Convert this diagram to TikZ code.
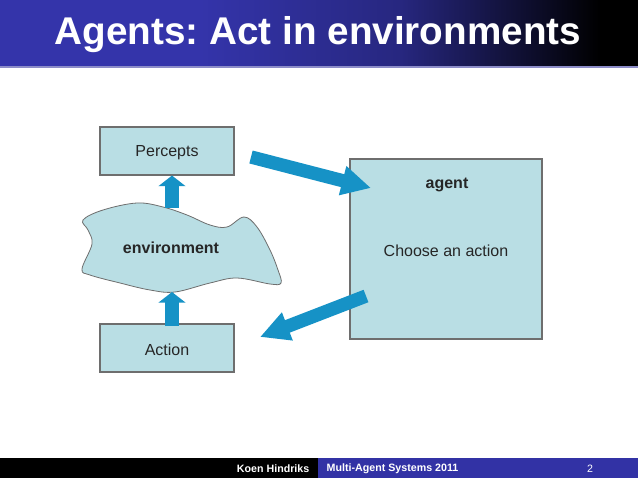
\documentclass[tikz,border=0pt]{standalone}
\usepackage{fontspec}
\setmainfont{Liberation Sans}
\frenchspacing
\usetikzlibrary{arrows.meta,calc}
\definecolor{boxfill}{RGB}{185,222,228}
\definecolor{boxline}{RGB}{110,110,110}
\definecolor{arrowblue}{RGB}{22,146,198}
\definecolor{titleblue}{RGB}{52,52,170}
\definecolor{footblue}{RGB}{50,50,165}
\definecolor{lineblue}{RGB}{140,140,200}
\tikzset{
  box/.style={draw=boxline, fill=boxfill, line width=0.8pt, inner sep=0pt},
  lbl/.style={font=\fontsize{12}{14}\selectfont, text=black!85},
  blbl/.style={font=\bfseries\fontsize{12}{14}\selectfont, text=black!85},
  uparrow/.style={draw=arrowblue, line width=10.5pt, -{Triangle[width=20pt,length=8pt]}, arrowblue},
  bigarrow/.style={draw=arrowblue, line width=10pt, -{Triangle[width=21pt,length=22pt]}, arrowblue},
}
\begin{document}
\begin{tikzpicture}[x=0.75pt,y=-0.75pt]
\useasboundingbox (0,0) rectangle (638,478);
\fill[white] (0,0) rectangle (638,478);
% title bar
\fill[titleblue] (0,0) rectangle (200,66);
\shade[left color=titleblue, right color=black, middle color=titleblue!75!black] (200,0) rectangle (600,66);
\fill[black] (600,0) rectangle (638,66);
\fill[lineblue] (0,66) rectangle (638,68);
\node[anchor=west, text=white, font=\bfseries\fontsize{29}{32}\selectfont] (title) at (50,35) {Agents: Act in environments};
% footer
\fill[black] (0,458) rectangle (318,478);
\fill[footblue] (318,458) rectangle (638,478);
\node[anchor=east, text=white, font=\bfseries\fontsize{8}{9}\selectfont] (author) at (314,469) {Koen Hindriks};
\node[anchor=west, text=white, font=\bfseries\fontsize{8}{9}\selectfont] (course) at (322,469) {Multi-Agent Systems 2011};
\node[text=white, font=\fontsize{8}{9}\selectfont] (page) at (590,469) {2};
% boxes
\node[box, minimum width=100.5pt, minimum height=36pt] (perc) at (167,151) {};
\node[lbl] (perctxt) at (167,153) {Percepts};
\node[box, minimum width=100.5pt, minimum height=36pt] (act) at (167,348) {};
\node[lbl] (acttxt) at (167,350) {Action};
\node[box, minimum width=144pt, minimum height=135pt] (agent) at (446,249) {};
\node[blbl] (agentlbl) at (447,185) {agent};
\node[lbl] (choose) at (446,251) {Choose an action};
% environment blob
\filldraw[fill=boxfill, draw=boxline, line width=0.6pt] plot[smooth cycle, tension=0.6] coordinates {
 (83,220) (103,210) (137,203) (163,207) (187,215) (210,225) (227,227) (244,217) (257,227) (270,250) (278,270) (281,283) (270,284) (237,278) (210,283) (175,292) (150,290) (120,283) (90,275) (82,269) (92,244) (88,230)};
\node[blbl] (env) at (171,248) {environment};
% up arrows
\coordinate (e1) at (172,208);
\coordinate (e2) at (172,326);
\draw[uparrow] (e1) -- (e1 |- perc.south);
\draw[uparrow] (e2) -- (e2 |- {(0,292)});
% big arrows
\coordinate (t1) at (251,157);
\coordinate (h1) at (371,188);
\coordinate (t2) at (366,296);
\coordinate (h2) at (260,337);
\draw[bigarrow] (t1) -- (h1);
\draw[bigarrow] (t2) -- (h2);
\end{tikzpicture}
\end{document}
